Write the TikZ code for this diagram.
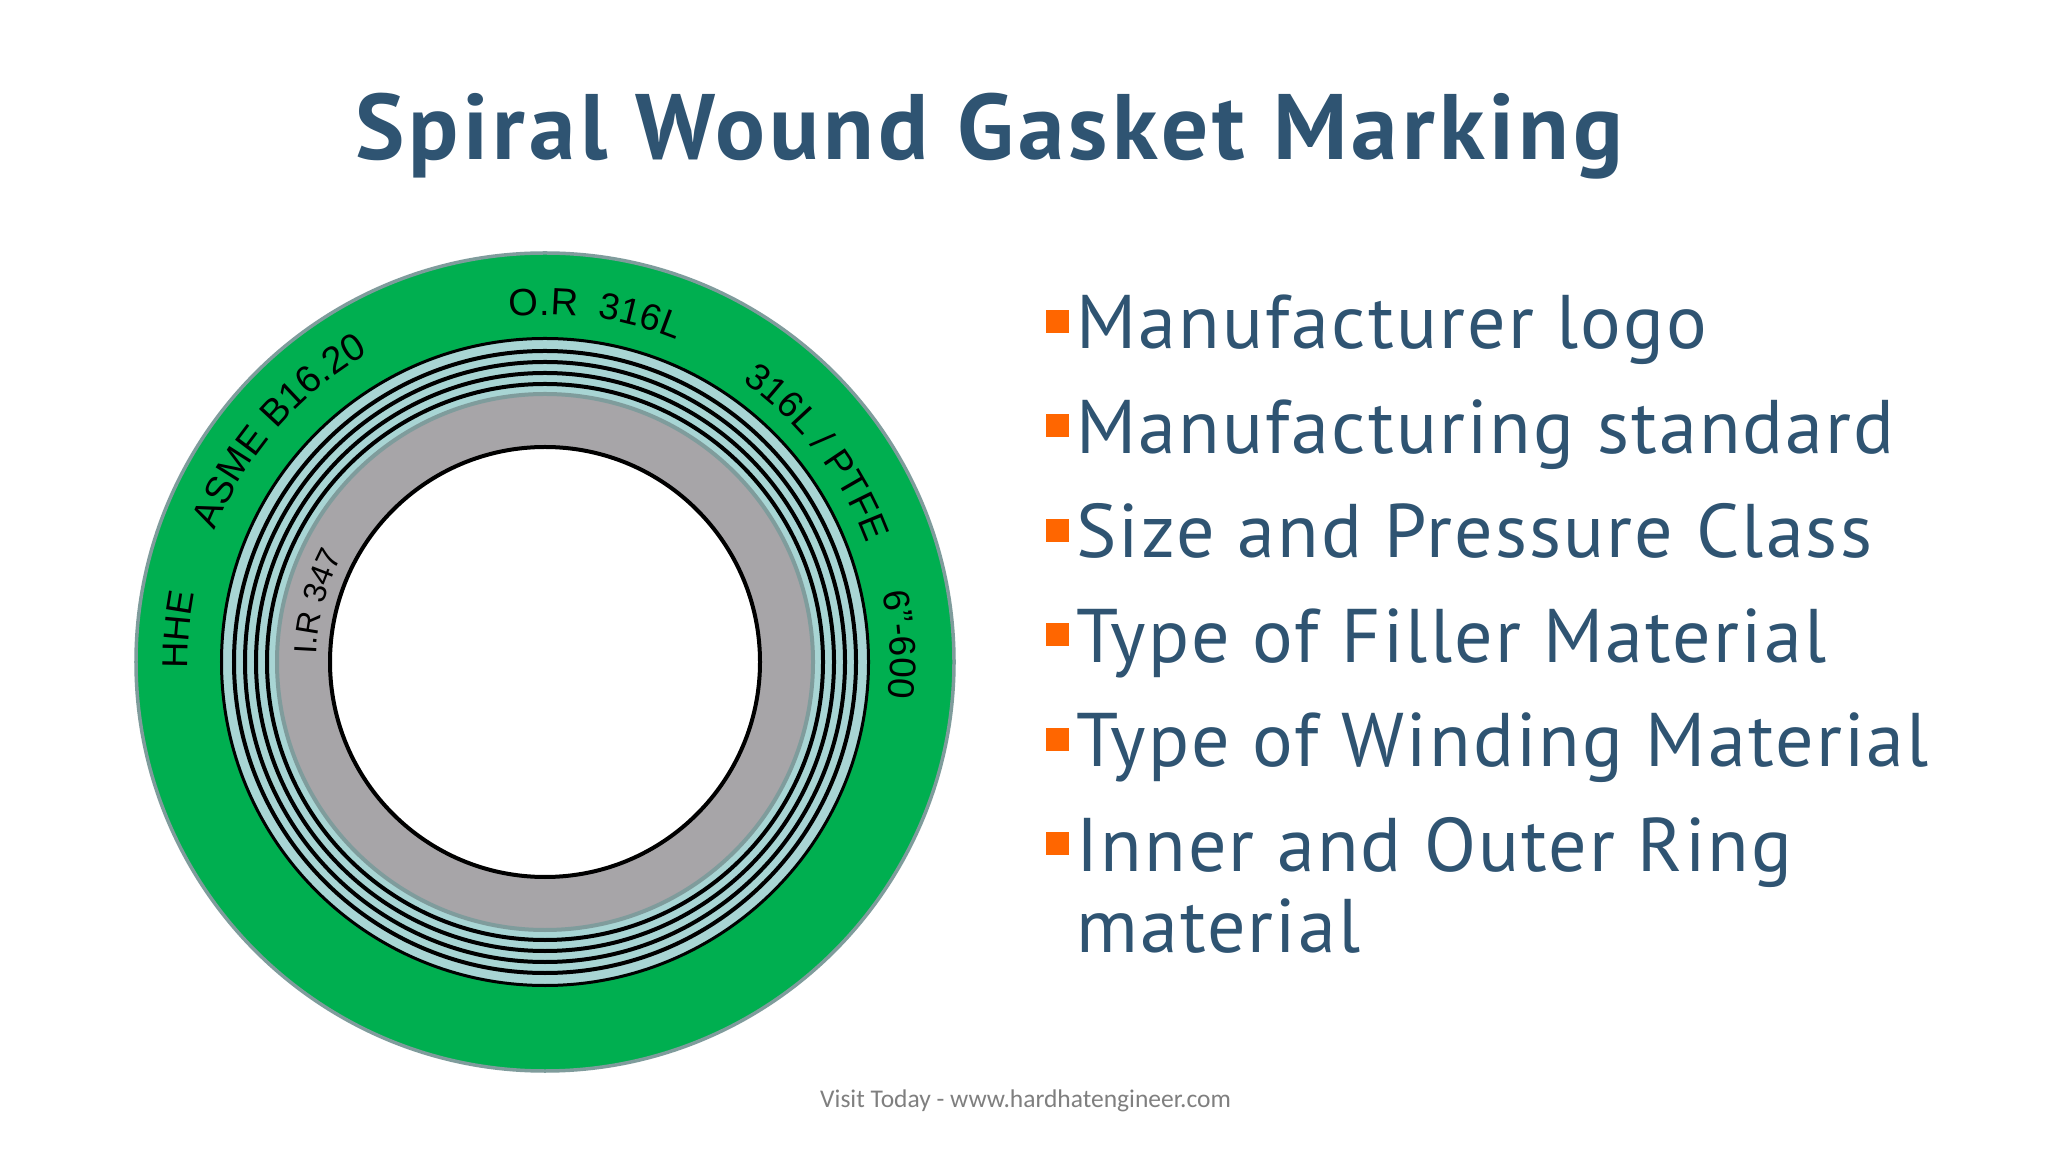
\documentclass[tikz,border=0pt]{standalone}
\usepackage{fontspec}
\usetikzlibrary{decorations.text}
\setmainfont{PT Sans}
\newfontfamily\ringfont{Liberation Sans}
\newfontfamily\bodyfont[LetterSpace=2.9]{PT Sans}
\newfontfamily\titlefont[LetterSpace=4.7]{PT Sans Bold}
\newfontfamily\footfont{Carlito}
\definecolor{slate}{HTML}{2F5472}
\definecolor{bulletorange}{HTML}{FF6600}
\definecolor{ringgreen}{HTML}{00AF50}
\definecolor{ringedge}{HTML}{7F9C9C}
\definecolor{bandteal}{HTML}{A8D5D4}
\definecolor{innergray}{HTML}{A7A5A8}
\definecolor{footgray}{HTML}{7F7F7F}
\tikzset{
  x=1bp,y=1bp,
  bullettext/.style={anchor=base west,inner sep=0pt,text=slate,font=\bodyfont\fontsize{76bp}{76bp}\selectfont},
  bulletmark/.style={fill=bulletorange,draw=none,minimum size=23bp,inner sep=0pt,anchor=north west},
  spiralline/.style={draw=black,line width=4bp}
}
% arguments: radius, start angle, end angle, size, text
\newcommand{\ringtext}[5]{%
  \path[decorate,decoration={text along path,
    text={|\ringfont\fontsize{#4bp}{#4bp}\selectfont|#5}}]
    (gc) ++(#2:#1bp) arc[start angle=#2,end angle=#3,radius=#1bp];}
\begin{document}
\begin{tikzpicture}
\useasboundingbox (0,0) rectangle (2048,1152);
\fill[white] (0,0) rectangle (2048,1152);
\coordinate (gc) at (545,490);
% rings
\fill[ringgreen,draw=ringedge,line width=3.5bp] (gc) circle[radius=409bp];
\fill[bandteal] (gc) circle[radius=324bp];
\draw[draw=black,line width=3bp] (gc) circle[radius=323.5bp];
\foreach \r in {311,300,289,278} \draw[spiralline] (gc) circle[radius=\r bp];
\fill[innergray,draw=ringedge,line width=4bp] (gc) circle[radius=268bp];
\fill[white,draw=black,line width=4bp] (gc) circle[radius=215bp];
% ring labels
\ringtext{357}{181}{140}{36}{HHE}
\ringtext{355}{158.3}{110}{38}{ASME B16.20}
\ringtext{347}{95.8}{75}{38}{O.R}
\ringtext{348}{81.3}{55}{37}{316L}
\ringtext{343}{54.9}{12}{37}{316L / PTFE}
\ringtext{345}{11.7}{-14}{37}{6”-600}
\ringtext{229}{178}{140}{32}{I.R 347}
% title
\node[anchor=base west,inner sep=0pt,text=slate,font=\titlefont\fontsize{93bp}{93bp}\selectfont] (title) at (355,992) {Spiral Wound Gasket Marking};
% bullets
\node[bulletmark] (b1) at (1046,842) {};
\node[bulletmark] (b2) at (1046,738) {};
\node[bulletmark] (b3) at (1046,633) {};
\node[bulletmark] (b4) at (1046,529) {};
\node[bulletmark] (b5) at (1046,424) {};
\node[bulletmark] (b6) at (1046,320) {};
\node[bullettext] (t1) at (1076,803) {Manufacturer logo};
\node[bullettext] (t2) at (1076,698.5) {Manufacturing standard};
\node[bullettext] (t3) at (1076,594) {Size and Pressure Class};
\node[bullettext] (t4) at (1076,489.5) {Type of Filler Material};
\node[bullettext] (t5) at (1076,385) {Type of Winding Material};
\node[bullettext] (t6) at (1076,280.5) {Inner and Outer Ring};
\node[bullettext] (t7) at (1076,199) {material};
% footer
\node[anchor=base west,inner sep=0pt,text=footgray,font=\footfont\fontsize{25.5bp}{25.5bp}\selectfont] (foot) at (820,45) {Visit Today - www.hardhatengineer.com};
\end{tikzpicture}
\end{document}
